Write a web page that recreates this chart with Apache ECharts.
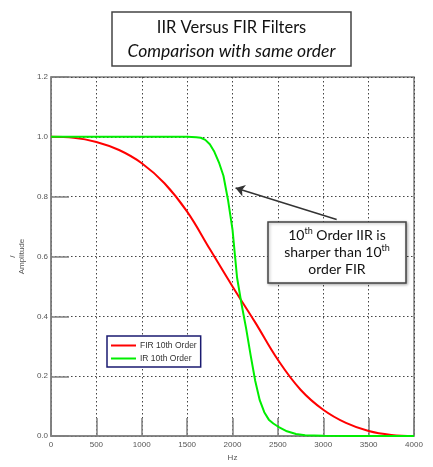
<!DOCTYPE html>
<html>
<head>
<meta charset="utf-8">
<script src="https://cdn.jsdelivr.net/npm/echarts@6/dist/echarts.min.js"></script>
<style>
  html, body { margin: 0; padding: 0; background: #fff; }
  #chart { width: 433px; height: 467px; }
</style>
</head>
<body>
<div id="chart"></div>
<script>
const firHz = [0, 250, 500, 750, 1000, 1250, 1500, 1750, 2000, 2250, 2500, 2750, 3000, 3250, 3500, 3750, 4000]
const firAmp = [1.0, 0.997, 0.983, 0.956, 0.912, 0.845, 0.75, 0.625, 0.5, 0.38, 0.255, 0.155, 0.088, 0.044, 0.017, 0.004, 0.0]

const iirHz = [0, 500, 1000, 1500, 1600, 1650, 1700, 1750, 1800, 1850, 1900, 1950, 2000, 2050, 2100, 2150, 2200, 2250, 2300, 2350, 2400, 2450, 2500, 2600, 2700, 2800, 3000, 3500, 4000]
const iirAmp = [1.0, 1.0, 1.0, 1.0, 0.999, 0.997, 0.99, 0.975, 0.95, 0.915, 0.87, 0.79, 0.69, 0.53, 0.44, 0.36, 0.27, 0.185, 0.12, 0.08, 0.055, 0.042, 0.032, 0.016, 0.007, 0.003, 0.001, 0.0, 0.0]

const seriesNames = ['FIR 10th Order', 'IR 10th Order']
const arrowFrom = [3148, 0.724]
const arrowTo = [2034, 0.829]

const chartDom = document.getElementById('chart')
const chart = echarts.init(chartDom)

const pair = (xs, ys) => xs.map((x, i) => [x, ys[i]])

const option = {
    animation: false,
    backgroundColor: '#fff',
    grid: {
        left: 43,
        right: 19,
        top: 77,
        bottom: 27,
        show: true,
        borderColor: '#808080',
        borderWidth: 1.5,
        backgroundColor: '#fff'
    },
    legend: {
        data: seriesNames,
        orient: 'vertical',
        left: 107,
        top: 336,
        itemWidth: 25,
        itemHeight: 2,
        itemGap: 4,
        icon: 'rect',
        padding: [5, 4, 4, 4],
        backgroundColor: '#fff',
        borderColor: '#1a1a70',
        borderWidth: 1.5,
        borderRadius: 0,
        textStyle: { fontFamily: 'Liberation Sans', fontSize: 8.5, color: '#333', padding: [0, 0, 0, -1] }
    },
    xAxis: {
        type: 'value',
        min: 0,
        max: 4000,
        interval: 500,
        name: 'Hz',
        nameLocation: 'middle',
        nameGap: 14,
        nameTextStyle: { fontFamily: 'Liberation Sans', fontSize: 8, color: '#555' },
        axisLine: { show: true, lineStyle: { color: '#808080', width: 1.5 } },
        axisTick: { show: true, inside: true, length: 18, lineStyle: { color: '#808080', width: 1.5 } },
        axisLabel: {
            fontFamily: 'Liberation Sans', fontSize: 8, color: '#555', margin: 5,
            formatter: v => String(v)
        },
        splitLine: { show: true, lineStyle: { color: '#444', width: 1, type: [1.5, 2.5] } }
    },
    yAxis: {
        type: 'value',
        min: 0,
        max: 1.2,
        interval: 0.2,
        name: '/\nAmplitude',
        nameLocation: 'middle',
        nameGap: 16,
        nameRotate: 90,
        nameTextStyle: { fontFamily: 'Liberation Sans', fontSize: 8, color: '#555', lineHeight: 9 },
        axisLine: { show: true, lineStyle: { color: '#808080', width: 1.5 } },
        axisTick: { show: true, inside: true, length: 18, lineStyle: { color: '#808080', width: 1.5 } },
        axisLabel: {
            fontFamily: 'Liberation Sans', fontSize: 8, color: '#555', margin: 3,
            formatter: v => v.toFixed(1)
        },
        splitLine: { show: true, lineStyle: { color: '#444', width: 1, type: [1.5, 2.5] } }
    },
    series: [
        {
            name: seriesNames[0],
            type: 'line',
            data: pair(firHz, firAmp),
            smooth: 0.4,
            symbol: 'none',
            lineStyle: { color: '#ff0000', width: 2 },
            itemStyle: { color: '#ff0000' },
            z: 3
        },
        {
            name: seriesNames[1],
            type: 'line',
            data: pair(iirHz, iirAmp),
            smooth: false,
            symbol: 'none',
            lineStyle: { color: '#00ee00', width: 2, join: 'round' },
            itemStyle: { color: '#00ee00' },
            z: 4,
            markLine: {
                silent: true,
                symbol: ['none', 'arrow'],
                symbolSize: 9,
                label: { show: false },
                lineStyle: { color: '#333', width: 1.5, type: 'solid' },
                data: [[{ coord: arrowFrom }, { coord: arrowTo }]]
            }
        }
    ],
    graphic: [
        {
            type: 'rect',
            x: 112,
            y: 12,
            shape: { width: 239, height: 54 },
            style: { fill: '#fff', stroke: '#444', lineWidth: 1.5 },
            z: 100
        },
        {
            type: 'text',
            x: 231.5,
            y: 19,
            z: 101,
            style: {
                text: 'IIR Versus FIR Filters',
                align: 'center',
                verticalAlign: 'top',
                fontFamily: 'Lato',
                fontSize: 16.5,
                fill: '#111'
            }
        },
        {
            type: 'text',
            x: 231.5,
            y: 42,
            z: 101,
            style: {
                text: 'Comparison with same order',
                align: 'center',
                verticalAlign: 'top',
                fontFamily: 'Lato',
                fontStyle: 'italic',
                fontSize: 17.5,
                fill: '#111'
            }
        },
        {
            type: 'rect',
            x: 268,
            y: 222,
            shape: { width: 138, height: 61 },
            style: { fill: '#fff', stroke: '#444', lineWidth: 1.5, shadowBlur: 3, shadowColor: 'rgba(0,0,0,0.3)', shadowOffsetX: 1, shadowOffsetY: 1 },
            z: 100
        },
        {
            type: 'text',
            x: 337,
            y: 227,
            z: 101,
            style: {
                text: '10{sup|th} Order IIR is\nsharper than 10{sup|th}\norder FIR',
                align: 'center',
                verticalAlign: 'top',
                fontFamily: 'Lato',
                fontSize: 14,
                lineHeight: 17,
                fill: '#111',
                rich: {
                    sup: { fontFamily: 'Lato', fontSize: 9, verticalAlign: 'top', fill: '#111', lineHeight: 17 }
                }
            }
        }
    ]
}

option && chart.setOption(option)
</script>
</body>
</html>
